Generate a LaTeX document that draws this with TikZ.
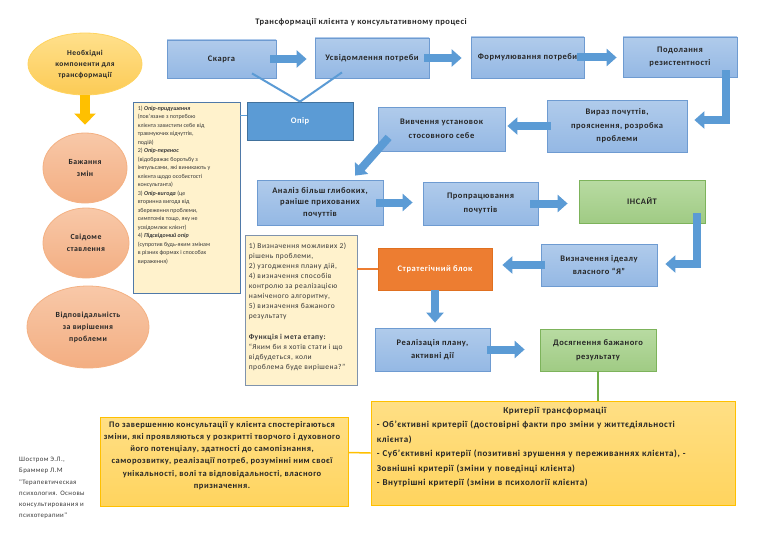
\documentclass[tikz,border=0pt]{standalone}
\usepackage{fontspec}
\setmainfont{Carlito}
\newfontfamily\wf[LetterSpace=6]{Carlito}
\usetikzlibrary{arrows.meta,shapes.geometric,calc}
\definecolor{lblueT}{HTML}{B0CBEB}
\definecolor{lblueB}{HTML}{94B8E4}
\definecolor{lblueD}{HTML}{6E9BD1}
\definecolor{opirF}{HTML}{5B9BD5}
\definecolor{opirD}{HTML}{41719C}
\definecolor{stratF}{HTML}{ED7D31}
\definecolor{stratD}{HTML}{E07020}
\definecolor{grT}{HTML}{B8DBA2}
\definecolor{grB}{HTML}{A0CB84}
\definecolor{grD}{HTML}{7DB35B}
\definecolor{grL}{HTML}{70AD47}
\definecolor{salT}{HTML}{F8C8A8}
\definecolor{salB}{HTML}{F3AE82}
\definecolor{salD}{HTML}{F4B183}
\definecolor{goldT}{HTML}{FFE08C}
\definecolor{goldB}{HTML}{FCCB55}
\definecolor{goldD}{HTML}{FFD460}
\definecolor{critT}{HTML}{FFDF85}
\definecolor{critB}{HTML}{FFD45E}
\definecolor{critD}{HTML}{FFC000}
\definecolor{noteF}{HTML}{FFF2CC}
\definecolor{noteDA}{HTML}{4F79A8}
\definecolor{noteDB}{HTML}{7F93AD}
\definecolor{arrB}{HTML}{5B9BD5}
\definecolor{txt}{HTML}{262626}
\definecolor{notetxt}{HTML}{3A3A3A}
\newcommand\bxfont{\wf\fontsize{8.5}{13.5}\selectfont\bfseries}
\begin{document}
\begin{tikzpicture}[x=1pt,y=-1pt,
  lbox/.style={draw=lblueD, line width=0.8pt, top color=lblueT, bottom color=lblueB, font=\bxfont, text=txt, align=center, inner sep=2pt},
  gbox/.style={draw=grD, line width=0.8pt, top color=grT, bottom color=grB, font=\bxfont, text=txt, align=center, inner sep=2pt},
  sal/.style={ellipse, draw=salD, line width=0.8pt, top color=salT, bottom color=salB, font=\wf\fontsize{7.8}{12.5}\selectfont\bfseries, text=txt, align=center, inner sep=0pt},
  notebox/.style={draw=noteDA, line width=0.8pt, fill=noteF, inner sep=0pt},
  notetext/.style={anchor=north west, inner sep=0pt, text=notetxt, align=left},
  critbox/.style={draw=critD, line width=0.8pt, top color=critT, bottom color=critB, inner sep=0pt},
  barrow/.style={draw=arrB, line width=8pt, line join=miter, -{Triangle[width=17pt,length=10pt]}},
  thin/.style={line width=2pt}
]
\useasboundingbox[fill=white] (0,0) rectangle (768,543);

% title
\node[font=\wf\fontsize{8.5}{10}\selectfont\bfseries, text=txt] (title) at (361,22) {Трансформації клієнта у консультативному процесі};

% left column
\node[ellipse, draw=goldD, line width=0.8pt, top color=goldT, bottom color=goldB, minimum width=114pt, minimum height=62pt, inner sep=0pt, font=\wf\fontsize{7.5}{11}\selectfont\bfseries, text=txt, align=center] (need) at (85,64) {Необхідні\\компоненти для\\трансформації};
\node[sal, minimum width=84pt, minimum height=70pt] (bazh) at (85,168) {Бажання\\змін};
\node[sal, minimum width=86pt, minimum height=70pt] (svid) at (86,243) {Свідоме\\ставлення};
\node[sal, minimum width=122pt, minimum height=82pt, font=\wf\fontsize{7.8}{12}\selectfont\bfseries] (vidp) at (88,327) {Відповідальність\\за вирішення\\проблеми};
\draw[draw=critD, line width=10pt, -{Triangle[width=21pt,length=11pt]}, shorten >=8pt] (need.south) -- (need.south |- bazh.north);

% top row
\node[lbox, minimum width=109pt, minimum height=38pt] (skarga) at (221.5,59) {Скарга};
\node[lbox, minimum width=114pt, minimum height=40pt] (usv) at (372,58) {Усвідомлення потреби};
\node[lbox, minimum width=113pt, minimum height=41pt] (form) at (527.5,57.5) {Формулювання потреби};
\node[lbox, minimum width=114pt, minimum height=40pt] (podol) at (680,57) {Подолання\\резистентності};

% opir
\node[draw=opirD, line width=0.8pt, fill=opirF, minimum width=106pt, minimum height=38pt, font=\bxfont, text=white] (opir) at (300,121) {Опір};
\draw[opirF, thin] ($(skarga.south)+(30.5,-5)$) -- (opir.north);
\draw[opirF, thin] ($(usv.south)+(-30,-6)$) -- (opir.north);

% note 1
\node[notebox, minimum width=107pt, minimum height=191pt] (note1) at (186.5,197.5) {};
\node[notetext, font=\fontsize{6}{8.5}\selectfont] (note1t) at ($(note1.north west)+(5,4)$) {1) \textbf{\textit{Опір-придушення}}\\(пов'язане з потребою\\клієнта захистити себе від\\травмуючих відчуттів,\\подій)\\2) \textbf{\textit{Опір-перенос}}\\(відображає боротьбу з\\імпульсами, які виникають у\\клієнта щодо особистості\\консультанта)\\3) \textbf{\textit{Опір-вигода}} (це\\вторинна вигода від\\збереження проблеми,\\симптомів тощо, яку не\\усвідомлює клієнт)\\4) \textbf{\textit{Підсвідомий опір}}\\(супротив будь-яким змінам\\в різних формах і способах\\вираження)};
\draw[opirF, line width=1.5pt] ($(note1.north east)+(0,14)$) -- ($(opir.north west)+(0,14)$);

% second row
\node[lbox, minimum width=140pt, minimum height=52pt] (vyraz) at (617,126) {Вираз почуттів,\\прояснення, розробка\\проблеми};
\node[lbox, minimum width=127pt, minimum height=44pt] (vyvch) at (441.5,129) {Вивчення установок\\стосовного себе};

% third row
\node[lbox, minimum width=126pt, minimum height=45pt, font=\wf\fontsize{8.5}{11.5}\selectfont\bfseries] (analiz) at (320,202.5) {Аналіз більш глибоких,\\раніше прихованих\\почуттів};
\node[lbox, minimum width=115pt, minimum height=43pt] (propr) at (480.5,203.5) {Пропрацювання\\почуттів};
\node[gbox, minimum width=126pt, minimum height=43pt] (insait) at (642,201.5) {ІНСАЙТ};

% fourth row
\node[lbox, minimum width=116pt, minimum height=42pt] (vyzn) at (599,265) {Визначення ідеалу\\власного “Я”};
\node[draw=stratD, line width=0.8pt, fill=stratF, minimum width=114pt, minimum height=42pt, font=\bxfont, text=white] (strat) at (435,269) {Стратегічний блок};

% note 2
\node[notebox, draw=noteDB, minimum width=112pt, minimum height=150pt] (note2) at (301,310) {};
\node[notetext, font=\wf\fontsize{7.5}{10.1}\selectfont] (note2t) at ($(note2.north west)+(4,8)$) {1) Визначення можливих 2)\\рішень проблеми,\\2) узгодження плану дій,\\4) визначення способів\\контролю за реалізацією\\наміченого алгоритму,\\5) визначення бажаного\\результату\\[10.1pt]\textbf{Функція і мета етапу:}\\“Яким би я хотів стати і що\\відбудеться, коли\\проблема буде вирішена?”};
\draw[stratF, thin] (note2.east |- strat.west) -- (strat.west);

% fifth row
\node[lbox, minimum width=115pt, minimum height=43pt] (real) at (432.5,349.5) {Реалізація плану,\\активні дії};
\node[gbox, minimum width=116pt, minimum height=42pt] (dosyag) at (598,350) {Досягнення бажаного\\результату};

% bottom boxes
\node[critbox, minimum width=364pt, minimum height=104pt] (krit) at (553,453) {};
\node[notetext, text=txt, font=\wf\fontsize{9}{14.5}\selectfont\bfseries, text width=356pt] (kritt) at ($(krit.north west)+(6,6)$) {\makebox[\linewidth][c]{Критерії трансформації}\\- Об’єктивні критерії (достовірні факти про зміни у життєдіяльності\\клієнта)\\- Суб’єктивні критерії (позитивні зрушення у переживаннях клієнта), -\\Зовнішні критерії (зміни у поведінці клієнта)\\- Внутрішні критерії (зміни в психології клієнта)};
\node[critbox, minimum width=248pt, minimum height=89pt] (zav) at (224,461.5) {};
\node[font=\wf\fontsize{8.5}{12.3}\selectfont\bfseries, text=txt, align=center, inner sep=0pt] (zavt) at (222,455.5) {По завершенню консультації у клієнта спостерігаються\\зміни, які проявляються у розкритті творчого і духовного\\його потенціалу, здатності до самопізнання,\\саморозвитку, реалізації потреб, розумінні ним своєї\\унікальності, волі та відповідальності, власного\\призначення.};
\draw[critD, line width=1.5pt] ($(zav.east)+(0,-9)$) -- (krit.west);
\draw[grL, thin] (dosyag.south) -- (dosyag.south |- krit.north);

% citation
\node[notetext, text=notetxt, font=\wf\fontsize{6.8}{11.2}\selectfont] (cite) at (19,457) {Шостром Э.Л.,\\Браммер Л.М\\"Терапевтическая\\психология. Основы\\консультирования и\\психотерапии"};

% block arrows
\draw[barrow, shorten <=-6pt, shorten >=8pt] (skarga.east) -- (skarga.east -| usv.west);
\draw[barrow, shorten <=-5pt, shorten >=9pt] (usv.east) -- (usv.east -| form.west);
\draw[barrow, shorten <=-7pt, shorten >=6pt] (form.east) -- (form.east -| podol.west);
\draw[barrow] ($(podol.south east)+(-11,-7)$) |- ($(vyraz.east)+(7,-6)$);
\draw[barrow, shorten <=-4pt, shorten >=2pt] (vyraz.west) -- (vyraz.west -| vyvch.east);
\draw[barrow] ($(vyvch.south west)+(11,-14)$) -- ($(analiz.north)+(35,-4)$);
\draw[barrow, shorten <=-7pt, shorten >=10pt] (analiz.east) -- (analiz.east -| propr.west);
\draw[barrow, shorten <=-8pt, shorten >=11pt] (propr.east) -- (propr.east -| insait.west);
\draw[barrow] ($(insait.south east)+(-8,-10)$) |- ($(vyzn.east)+(8,-1)$);
\draw[barrow, shorten <=-4pt, shorten >=10pt] (vyzn.west) -- (vyzn.west -| strat.east);
\draw[barrow, shorten >=5pt] (strat.south) -- (strat.south |- real.north);
\draw[barrow, shorten <=-3pt, shorten >=15pt] (real.east) -- (real.east -| dosyag.west);
\end{tikzpicture}
\end{document}
